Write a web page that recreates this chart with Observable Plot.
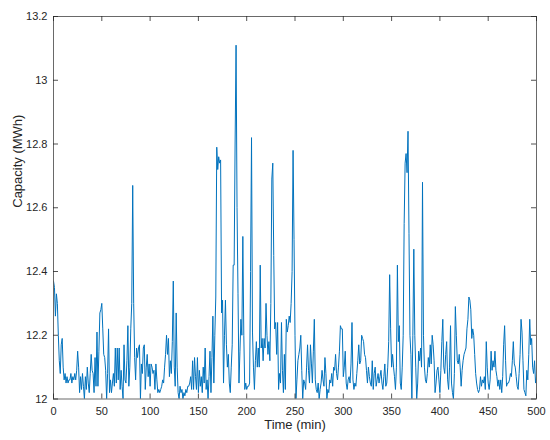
<!DOCTYPE html>
<html><head><meta charset="utf-8">
<script src="https://cdn.jsdelivr.net/npm/d3@7"></script>
<script src="https://cdn.jsdelivr.net/npm/@observablehq/plot@0.6"></script>
<style>body{margin:0;background:#fff}</style>
</head><body><div id="chart"></div>
<script>
// Capacity (MWh), one reading per minute, t = 0..500
const capacity = [
12.37,12.35,12.26,12.33,12.30,12.20,12.12,12.08,12.17,12.19,
12.10,12.06,12.08,12.05,12.07,12.05,12.06,12.06,12.08,12.05,
12.07,12.06,12.08,12.06,12.09,12.15,12.10,12.02,12.07,12.03,
12.08,12.04,12.00,12.07,12.03,12.10,12.05,12.02,12.08,12.14,
12.09,12.08,12.02,12.13,12.04,12.21,12.04,12.15,12.27,12.28,
12.30,12.22,12.14,12.13,12.09,12.00,12.08,12.22,12.02,12.06,
12.02,12.05,12.08,12.04,12.16,12.05,12.16,12.06,12.16,12.03,
12.09,12.04,12.00,12.17,12.06,12.05,12.12,12.23,12.04,12.10,
12.22,12.30,12.67,12.30,12.13,12.06,12.16,12.13,12.16,12.17,
12.00,12.11,12.08,12.16,12.17,12.03,12.10,12.14,12.07,12.11,
12.04,12.11,12.10,12.08,12.09,12.03,12.11,12.06,12.02,12.03,
12.02,12.03,12.04,12.06,12.05,12.10,12.14,12.20,12.14,12.19,
12.07,12.12,12.08,12.18,12.37,12.10,12.04,12.27,12.10,12.02,
12.00,12.04,12.02,12.03,12.00,12.02,12.01,12.03,12.02,12.04,
12.04,12.05,12.07,12.03,12.12,12.03,12.13,12.07,12.03,12.13,
12.02,12.09,12.04,12.07,12.02,12.10,12.05,12.16,12.03,12.06,
12.00,12.07,12.15,12.02,12.13,12.26,12.05,12.20,12.32,12.79,
12.72,12.76,12.74,12.75,12.27,12.31,12.05,12.20,12.31,12.17,
12.10,12.14,12.05,12.02,12.10,12.17,12.42,12.42,12.80,13.11,
12.60,12.33,12.05,12.15,12.25,12.20,12.51,12.20,12.03,12.05,
12.03,12.04,12.04,12.05,12.40,12.82,12.21,12.10,12.03,12.12,
12.18,12.10,12.16,12.10,12.42,12.16,12.19,12.12,12.19,12.16,
12.30,12.20,12.14,12.18,12.12,12.30,12.69,12.74,12.45,12.22,
12.24,12.14,12.24,12.03,12.08,12.05,12.24,12.09,12.02,12.14,
12.03,12.25,12.21,12.23,12.26,12.24,12.30,12.40,12.78,12.50,
12.20,12.00,12.06,12.12,12.14,12.16,12.20,12.09,12.00,12.06,
12.05,12.03,12.10,12.17,12.09,12.05,12.17,12.11,12.05,12.15,
12.25,12.06,12.03,12.02,12.05,12.00,12.03,12.05,12.09,12.06,
12.04,12.13,12.08,12.00,12.03,12.02,12.06,12.05,12.08,12.04,
12.10,12.09,12.14,12.08,12.06,12.10,12.15,12.23,12.22,12.22,
12.07,12.10,12.15,12.05,12.03,12.06,12.07,12.05,12.11,12.24,
12.06,12.03,12.05,12.04,12.08,12.12,12.17,12.11,12.12,12.20,
12.19,12.18,12.14,12.13,12.09,12.05,12.10,12.07,12.05,12.04,
12.12,12.03,12.08,12.10,12.04,12.06,12.08,12.05,12.07,12.09,
12.05,12.03,12.07,12.11,12.04,12.05,12.10,12.18,12.39,12.22,
12.10,12.14,12.10,12.07,12.03,12.10,12.42,12.18,12.23,12.05,
12.03,12.10,12.20,12.55,12.74,12.77,12.71,12.84,12.52,12.20,
12.14,12.00,12.20,12.47,12.20,12.10,12.00,12.05,12.15,12.12,
12.16,12.10,12.68,12.20,12.10,12.06,12.05,12.08,12.13,12.10,
12.17,12.11,12.20,12.17,12.12,12.02,12.05,12.09,12.10,12.06,
12.02,12.09,12.18,12.25,12.10,12.08,12.14,12.18,12.06,12.03,
12.10,12.23,12.05,12.02,12.00,12.08,12.29,12.20,12.12,12.11,
12.14,12.10,12.04,12.09,12.12,12.14,12.15,12.16,12.22,12.25,
12.32,12.31,12.28,12.19,12.22,12.20,12.14,12.08,12.05,12.03,
12.02,12.03,12.07,12.04,12.06,12.05,12.07,12.03,12.18,12.10,
12.05,12.03,12.06,12.15,12.09,12.12,12.10,12.15,12.09,12.07,
12.04,12.06,12.03,12.06,12.02,12.07,12.17,12.23,12.12,12.04,
12.05,12.05,12.06,12.08,12.07,12.12,12.18,12.11,12.10,12.07,
12.04,12.03,12.08,12.14,12.25,12.21,12.12,12.03,12.02,12.01,
12.09,12.06,12.14,12.25,12.17,12.19,12.10,12.08,12.12,12.05,
12.07
];
const minutes = capacity.map((_, i) => i);
const xTicks = [0, 50, 100, 150, 200, 250, 300, 350, 400, 450, 500];
const yTicks = [12, 12.2, 12.4, 12.6, 12.8, 13, 13.2];
const xLabel = "Time (min)";
const yLabel = "Capacity (MWh)";

const data = capacity.map((c, i) => ({t: minutes[i], c}));

const W = 550, H = 440, mL = 53, mR = 14, mT = 16, mB = 41.5;
const plotW = W - mL - mR, plotH = H - mT - mB, tick = 5;
const ink = "#262626";

const chart = Plot.plot({
  width: W, height: H,
  marginLeft: mL, marginRight: mR, marginTop: mT, marginBottom: mB,
  style: {fontFamily: "'Liberation Sans', Arial, sans-serif", fontSize: "11px", color: ink, background: "#fff"},
  x: {domain: [0, 500]},
  y: {domain: [12, 13.2]},
  marks: [
    Plot.line(data, {x: "t", y: "c", stroke: "#0072BD", strokeWidth: 1, clip: true}),
    Plot.frame({stroke: "#5a5a5a", strokeWidth: 0.9}),
    Plot.tickX(xTicks, {x: d => d, insetTop: plotH - tick, stroke: ink, strokeWidth: 0.8}),
    Plot.tickX(xTicks, {x: d => d, insetBottom: plotH - tick, stroke: ink, strokeWidth: 0.8}),
    Plot.tickY(yTicks, {y: d => d, insetRight: plotW - tick, stroke: ink, strokeWidth: 0.8}),
    Plot.tickY(yTicks, {y: d => d, insetLeft: plotW - tick, stroke: ink, strokeWidth: 0.8}),
    Plot.axisX({ticks: xTicks, tickSize: 0, tickPadding: 8, label: null, fontSize: 11, tickFormat: d => `${d}`}),
    Plot.axisY({ticks: yTicks, tickSize: 0, tickPadding: 6, label: null, fontSize: 11, tickFormat: d => `${d}`}),
    Plot.text([xLabel], {text: d => d, frameAnchor: "bottom", dy: 30, fontSize: 13, fill: ink}),
    Plot.text([yLabel], {text: d => d, frameAnchor: "left", dx: -36, rotate: -90, fontSize: 13, fill: ink})
  ]
});
document.getElementById("chart").appendChild(chart);
</script>
</body></html>
